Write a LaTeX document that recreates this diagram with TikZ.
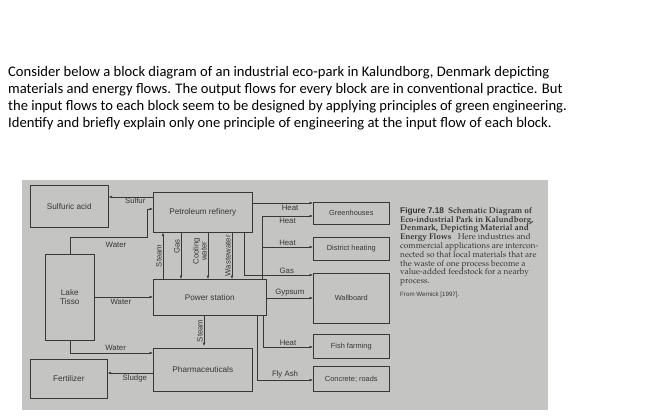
\documentclass[tikz,border=0pt]{standalone}
\usepackage{fontspec}
\setmainfont{Carlito}
\setsansfont{Liberation Sans}
\newfontfamily\capserif{TeX Gyre Pagella}
\usetikzlibrary{arrows.meta,calc}
\definecolor{photo}{RGB}{196,196,194}
\definecolor{ink}{RGB}{55,55,55}
\begin{document}
\begin{tikzpicture}[x=1pt,y=-1pt,
  blk/.style={draw=ink,line width=0.6pt,anchor=north west,inner sep=0pt,font=\sffamily\fontsize{8.2}{9.5}\selectfont,text=ink,align=center},
  flow/.style={draw=ink,line width=0.5pt,-{Latex[length=3.5pt,width=2.6pt]}},
  lbl/.style={font=\sffamily\fontsize{7.8}{8.5}\selectfont,text=ink,inner sep=1pt},
  para/.style={anchor=base west,inner sep=0pt,font=\fontsize{14.6}{17}\selectfont}]
\useasboundingbox (0,0) rectangle (669,416);
\fill[white] (0,0) rectangle (669,416);
\node[para] (p1) at (8,76) {Consider below a block diagram of an industrial eco-park in Kalundborg, Denmark depicting};
\node[para] (p2) at (8,93) {materials and energy flows. The output flows for every block are in conventional practice. But};
\node[para] (p3) at (8,110) {the input flows to each block seem to be designed by applying principles of green engineering.};
\node[para] (p4) at (8,127) {Identify and briefly explain only one principle of engineering at the input flow of each block.};
\fill[photo] (22,180) rectangle (548,410);
% blocks
\node[blk,minimum width=78,minimum height=42] (sa) at (30,185) {Sulfuric acid};
\node[blk,minimum width=99,minimum height=40] (pr) at (153,192) {Petroleum refinery};
\node[blk,minimum width=49,minimum height=86] (lt) at (45,254) {Lake\\Tisso};
\node[blk,minimum width=113,minimum height=36] (ps) at (153,279) {Power station};
\node[blk,minimum width=99,minimum height=43] (ph) at (153,348) {Pharmaceuticals};
\node[blk,minimum width=77,minimum height=39] (fe) at (30,359) {Fertilizer};
\node[blk,minimum width=76,minimum height=22,font=\sffamily\fontsize{7.4}{8.5}\selectfont] (gh) at (313,202) {Greenhouses};
\node[blk,minimum width=76,minimum height=23,font=\sffamily\fontsize{7.4}{8.5}\selectfont] (dh) at (313,237) {District heating};
\node[blk,minimum width=76,minimum height=50,font=\sffamily\fontsize{7.4}{8.5}\selectfont] (wb) at (313,273) {Wallboard};
\node[blk,minimum width=76,minimum height=24,font=\sffamily\fontsize{7.4}{8.5}\selectfont] (ff) at (313,334) {Fish farming};
\node[blk,minimum width=76,minimum height=25,font=\sffamily\fontsize{7.4}{8.5}\selectfont] (cr) at (313,366) {Concrete; roads};
% flows
\draw[flow] (pr.west |- 0,197) -- (sa.east |- 0,197) node[lbl,pos=0.4,below] {Sulfur};
\draw[flow] (70,0 |- lt.north) -- (70,237) -- (147,237) -- (147,209) -- (pr.west |- 0,209);
\node[lbl] (w1) at (116,245) {Water};
\draw[flow] (lt.east |- 0,297) -- (ps.west |- 0,297) node[lbl,pos=0.45,below=1pt] {Water};
\draw[flow] (70,0 |- lt.south) -- (70,353) -- (ph.west |- 0,353) node[lbl,pos=0.55,above=1pt] {Water};
\draw[flow] (ph.west |- 0,373) -- (fe.east |- 0,373) node[lbl,pos=0.4,below=1pt] {Sludge};
\draw[flow] (163,0 |- ps.north) -- (163,0 |- pr.south) node[lbl,pos=0.5,rotate=90,anchor=south] {Steam};
\draw[flow] (181,0 |- pr.south) -- (181,0 |- ps.north) node[lbl,pos=0.3,rotate=90,anchor=south] {Gas};
\draw[flow] (208,0 |- pr.south) -- (208,0 |- ps.north) node[lbl,pos=0.4,rotate=90,anchor=south,align=center,font=\sffamily\fontsize{7.8}{8}\selectfont] {Cooling\\water};
\draw[flow] (232,0 |- pr.south) -- (232,0 |- ps.north) node[lbl,pos=0.5,rotate=90,anchor=south] {Wastewater};
\draw[flow] (204,0 |- ps.south) -- (204,346) node[lbl,pos=0.5,rotate=90,anchor=south] {Steam};
\draw[flow] (pr.east |- 0,203) -- (gh.west |- 0,203) node[lbl,pos=0.62,below=0.5pt] {Heat};
\draw[flow] (244,0 |- pr.south) -- (244,275) -- (wb.west |- 0,275) node[lbl,pos=0.62,above=0.5pt] {Gas};
\draw[flow] (262,0 |- ps.north) -- (262,216) -- (gh.west |- 0,216) node[lbl,pos=0.5,below=0.5pt] {Heat};
\draw[flow] (262,247) -- (dh.west |- 0,247) node[lbl,pos=0.5,above=0.5pt] {Heat};
\draw[flow] (ps.east |- 0,298) -- (wb.west |- 0,298) node[lbl,pos=0.5,above=0.5pt] {Gypsum};
\draw[flow] (263,0 |- ps.south) -- (263,347) -- (ff.west |- 0,347) node[lbl,pos=0.5,above=0.5pt] {Heat};
\draw[flow] (257,0 |- ps.south) -- (257,380) -- (cr.west |- 0,380) node[lbl,pos=0.5,above=0.5pt] {Fly Ash};
% caption
\begin{scope}
\clip (22,180) rectangle (548,410);
\node[anchor=north west,inner sep=0pt,align=left,text=ink,font=\capserif\fontsize{8.3}{8.8}\selectfont] (cap) at (400,207) {%
{\sffamily\bfseries Figure 7.18}\enspace {\bfseries Schematic Diagram of}\\
{\bfseries Eco-industrial Park in Kalundborg,}\\
{\bfseries Denmark, Depicting Material and}\\
{\bfseries Energy Flows}\enspace\ Here industries and\\
commercial applications are intercon-\\
nected so that local materials that are\\
the waste of one process become a\\
value-added feedstock for a nearby\\
process.\\[4pt]
{\sffamily\fontsize{6.2}{7}\selectfont From Wernick [1997].}};
\end{scope}
\end{tikzpicture}
\end{document}
